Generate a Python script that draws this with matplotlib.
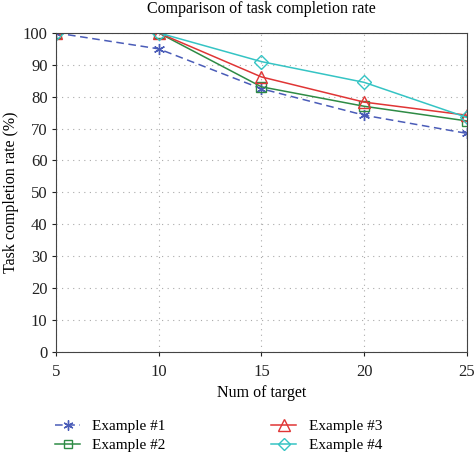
import matplotlib
matplotlib.use("Agg")
import matplotlib.pyplot as plt

x = [5, 10, 15, 20, 25]
ex1 = [100, 95, 82.5, 74.2, 68.5]
ex2 = [100, 100, 83.1, 77.0, 72.4]
ex3 = [100, 100, 86.2, 78.3, 74.2]
ex4 = [100, 100, 91.0, 84.5, 73.5]
labels = ["Example #1", "Example #2", "Example #3", "Example #4"]

plt.rcParams['font.family'] = ['Liberation Serif', 'DejaVu Serif']
fig = plt.figure(figsize=(4.74, 4.57), dpi=100)
ax = fig.add_axes([0.118, 0.230, 0.867, 0.698])

ax.plot(x, ex1, color='#4a5cb8', ls='--', marker=(6, 2, 0), ms=8, mew=1.0, lw=1.1, label=labels[0], dashes=(5, 3))
ax.plot(x, ex2, color='#2e8b45', ls='-', marker='s', ms=7, mfc='none', mew=1.0, lw=1.1, label=labels[1])
ax.plot(x, ex3, color='#e03535', ls='-', marker='^', ms=9, mfc='none', mew=1.0, lw=1.1, label=labels[2])
ax.plot(x, ex4, color='#35c4c4', ls='-', marker='D', ms=7, mfc='none', mew=1.0, lw=1.1, label=labels[3])

ax.set_xlim(5, 25)
ax.set_ylim(0, 100)
ax.set_xticks([5, 10, 15, 20, 25])
ax.set_yticks(range(0, 101, 10))
ax.grid(True, ls=(0, (1, 4)), color='#aaaaaa', lw=0.8)
ax.tick_params(labelsize=12, direction='out', length=3, pad=3, colors='#222222')
ax.tick_params(axis='x', pad=6)
for s in ax.spines.values():
    s.set_color('#444444')
ax.set_xlabel("Num of target", fontsize=11.5, labelpad=3)
ax.set_ylabel("Task completion rate (%)", fontsize=11.5)
ax.yaxis.set_label_coords(-0.09, 0.5)
ax.set_title("Comparison of task completion rate", fontsize=11.5, pad=14)

fig.legend(loc='center left', bbox_to_anchor=(55 / 474, 1 - 436 / 457), ncol=2, frameon=False,
           fontsize=11, columnspacing=6.9, handlelength=1.65, handletextpad=0.8,
           labelspacing=0.35, borderpad=0, borderaxespad=0, markerscale=0.9)
fig.savefig("out.png", dpi=100)
